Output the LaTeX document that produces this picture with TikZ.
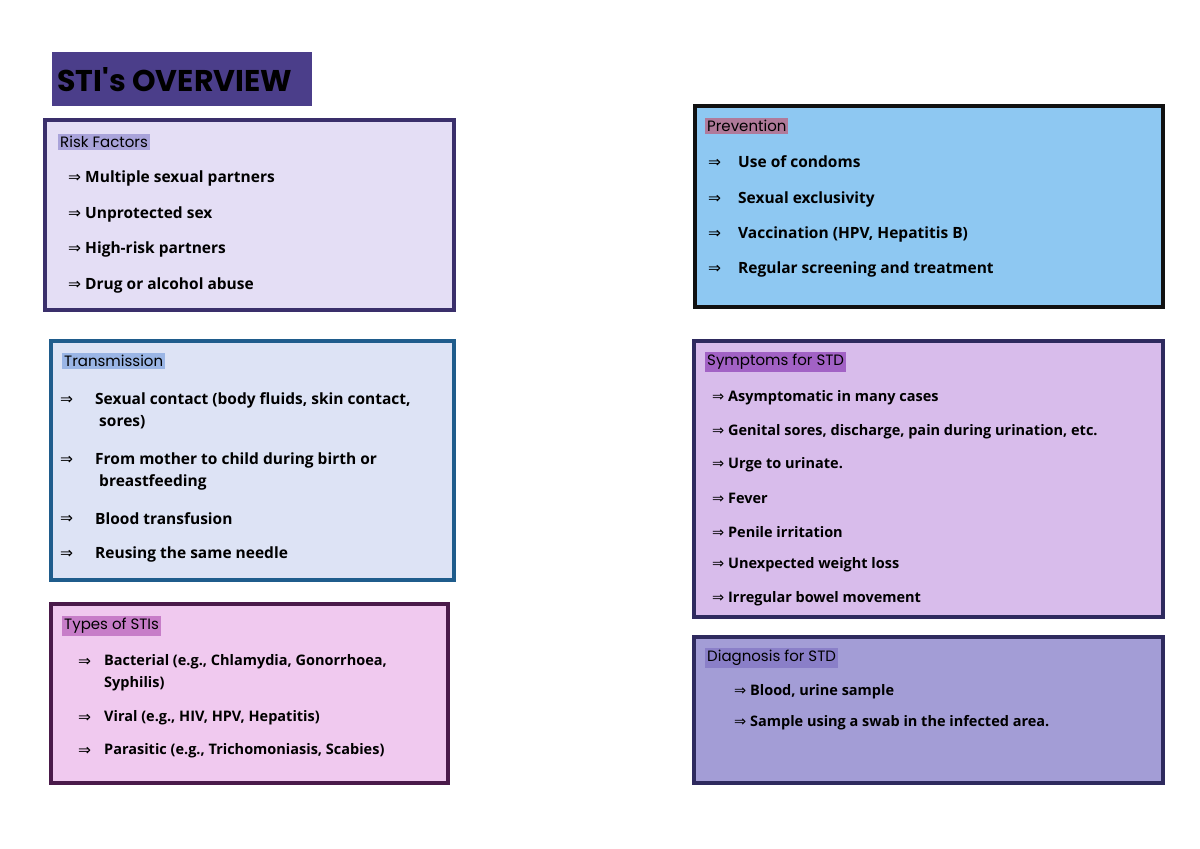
\documentclass[tikz,border=0pt]{standalone}
\usepackage{fontspec}
\setmainfont{Open Sans}
\newfontfamily\hdfont{Poppins}
\newfontfamily\symf{DejaVu Sans}
\newcommand{\ra}{{\symf\mdseries ⇒}}
\begin{document}
\begin{tikzpicture}[x=1pt,y=-1pt,
  box/.style={line width=3.5pt},
  hd/.style={anchor=west,inner sep=2pt,font=\hdfont\fontsize{15}{15}\selectfont},
  it/.style={anchor=west,inner sep=0pt,font=\bfseries\fontsize{15.5}{22}\selectfont,align=left},
  arr/.style={anchor=west,inner sep=0pt,font=\bfseries\fontsize{15.5}{22}\selectfont}]
\useasboundingbox (0,0) rectangle (1200,849);
\definecolor{tA}{HTML}{4B3E8A}
\fill[tA] (52,52) rectangle (312,106);
\node[anchor=west,font=\hdfont\bfseries\fontsize{30}{30}\selectfont] (title) at (54,80) {STI's OVERVIEW};
% Risk factors
\draw[box,draw={rgb,255:red,58;green,47;blue,107},fill={rgb,255:red,228;green,222;blue,245}] (45,120) rectangle (454,310);
\node[hd,fill={rgb,255:red,169;green,163;blue,218}] (rf) at (58,142) {Risk Factors};
\node[it] (r1) at (68,178) {\ra\ Multiple sexual partners};
\node[it] (r2) at (68,214) {\ra\ Unprotected sex};
\node[it] (r3) at (68,249) {\ra\ High-risk partners};
\node[it] (r4) at (68,285) {\ra\ Drug or alcohol abuse};
% Transmission
\draw[box,draw={rgb,255:red,31;green,92;blue,140},fill={rgb,255:red,221;green,227;blue,245}] (51,341) rectangle (454,580);
\node[hd,fill={rgb,255:red,154;green,181;blue,229}] (tr) at (62,361) {Transmission};
\node[arr] (t1a) at (60,400) {\strut\ra};
\node[it] (t1) at (95,411) {Sexual contact (body fluids, skin contact,\\ \ sores)};
\node[arr] (t2a) at (60,460) {\strut\ra};
\node[it] (t2) at (95,471) {From mother to child during birth or\\ \ breastfeeding};
\node[arr] (t3a) at (60,519) {\strut\ra};
\node[it] (t3) at (95,519) {Blood transfusion};
\node[arr] (t4a) at (60,554) {\strut\ra};
\node[it] (t4) at (95,554) {Reusing the same needle};
% Types
\draw[box,draw={rgb,255:red,74;green,26;blue,74},fill={rgb,255:red,240;green,201;blue,239}] (51,604) rectangle (448,783);
\node[hd,fill={rgb,255:red,199;green,125;blue,200}] (ty) at (62,626) {Types of STIs};
\node[arr] (y1a) at (78,662) {\strut\ra};
\node[it,font=\bfseries\fontsize{14.5}{22}\selectfont] (y1) at (104,673) {Bacterial (e.g., Chlamydia, Gonorrhoea,\\Syphilis)};
\node[arr] (y2a) at (78,718) {\strut\ra};
\node[it,font=\bfseries\fontsize{14.5}{22}\selectfont] (y2) at (104,718) {Viral (e.g., HIV, HPV, Hepatitis)};
\node[arr] (y3a) at (78,751) {\strut\ra};
\node[it,font=\bfseries\fontsize{14.5}{22}\selectfont] (y3) at (104,751) {Parasitic (e.g., Trichomoniasis, Scabies)};
% Prevention
\draw[box,draw={rgb,255:red,17;green,17;blue,17},fill={rgb,255:red,142;green,200;blue,242}] (695,106) rectangle (1163,307);
\node[hd,fill={rgb,255:red,176;green,122;blue,154}] (pv) at (705,126) {Prevention};
\foreach \n/\y/\t in {p1/163/Use of condoms,p2/199/Sexual exclusivity,p3/234/{Vaccination (HPV, Hepatitis B)},p4/269/Regular screening and treatment}{
  \node[arr] (\n a) at (708,\y) {\strut\ra};
  \node[it] (\n) at (738,\y) {\strut\t};}
% Symptoms
\draw[box,draw={rgb,255:red,46;green,42;blue,94},fill={rgb,255:red,216;green,188;blue,235}] (694,341) rectangle (1163,617);
\node[hd,fill={rgb,255:red,162;green,98;blue,197}] (sy) at (705,362) {Symptoms for STD};
\foreach \n/\y/\t in {s1/398/Asymptomatic in many cases,s2/432/{Genital sores, discharge, pain during urination, etc.},s3/465/Urge to urinate.,s4/498/Fever,s5/532/Penile irritation,s6/565/Unexpected weight loss,s7/599/Irregular bowel movement}{
  \node[it,font=\bfseries\fontsize{14.5}{22}\selectfont] (\n) at (712,\y) {\ra\ \t};}
% Diagnosis
\draw[box,draw={rgb,255:red,46;green,42;blue,94},fill={rgb,255:red,163;green,157;blue,214}] (694,637) rectangle (1163,783);
\node[hd,fill={rgb,255:red,138;green,127;blue,200}] (dg) at (705,658) {Diagnosis for STD};
\node[it,font=\bfseries\fontsize{14.5}{22}\selectfont] (d1) at (734,692) {\ra\ Blood, urine sample};
\node[it,font=\bfseries\fontsize{14.5}{22}\selectfont] (d2) at (734,723) {\ra\ Sample using a swab in the infected area.};
\end{tikzpicture}
\end{document}
